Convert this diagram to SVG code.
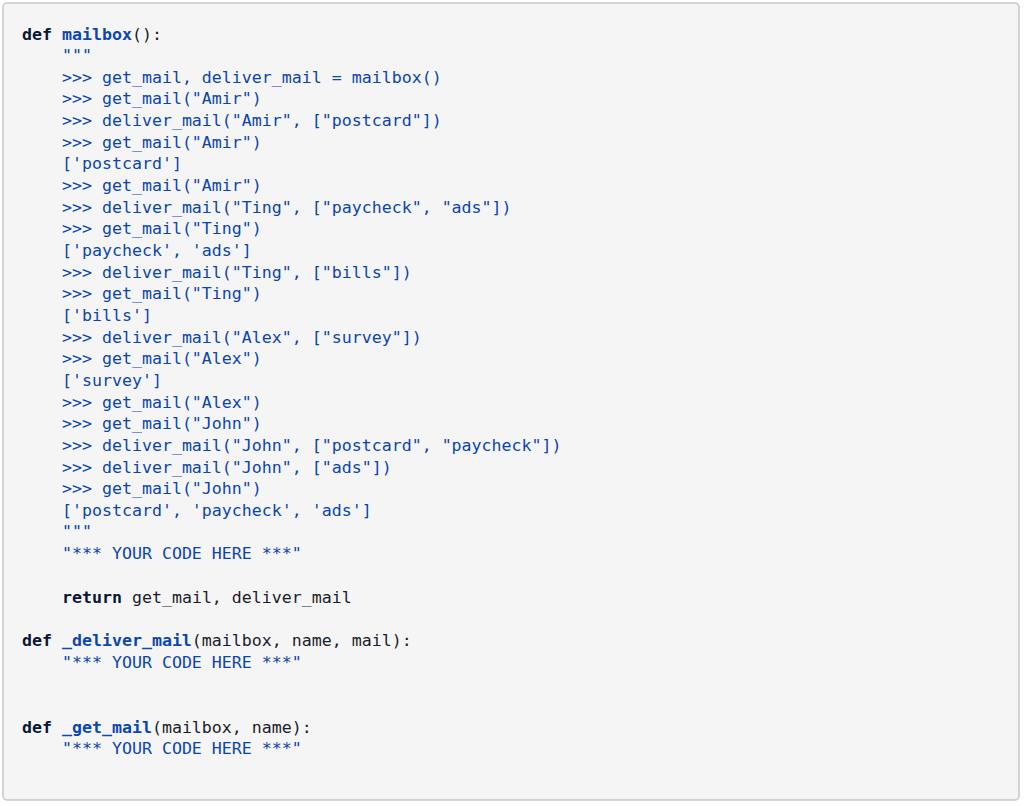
<svg xmlns="http://www.w3.org/2000/svg" width="1024" height="806" viewBox="0 0 1024 806">
<style>
text{font-family:"DejaVu Sans Mono",monospace;font-size:16.6px;fill:#1c1c2c;white-space:pre}
.k{font-weight:bold;fill:#0a1633}
.f{font-weight:bold;fill:#0b47b0}
.s{fill:#0b45b0}
</style>
<rect x="3" y="3" width="1016" height="797" rx="4" fill="#f5f5f5" stroke="#c8c8c8" stroke-width="1.5"/>
<g id="code">
<text x="22" y="40"><tspan class="k">def</tspan> <tspan class="f">mailbox</tspan>():</text>
<g class="s">
<text x="62" y="61" class="s">"""</text>
<text x="62" y="83" class="s">&gt;&gt;&gt; get_mail, deliver_mail = mailbox()</text>
<text x="62" y="104" class="s">&gt;&gt;&gt; get_mail("Amir")</text>
<text x="62" y="126" class="s">&gt;&gt;&gt; deliver_mail("Amir", ["postcard"])</text>
<text x="62" y="148" class="s">&gt;&gt;&gt; get_mail("Amir")</text>
<text x="62" y="169" class="s">['postcard']</text>
<text x="62" y="191" class="s">&gt;&gt;&gt; get_mail("Amir")</text>
<text x="62" y="213" class="s">&gt;&gt;&gt; deliver_mail("Ting", ["paycheck", "ads"])</text>
<text x="62" y="234" class="s">&gt;&gt;&gt; get_mail("Ting")</text>
<text x="62" y="256" class="s">['paycheck', 'ads']</text>
<text x="62" y="278" class="s">&gt;&gt;&gt; deliver_mail("Ting", ["bills"])</text>
<text x="62" y="299" class="s">&gt;&gt;&gt; get_mail("Ting")</text>
<text x="62" y="321" class="s">['bills']</text>
<text x="62" y="343" class="s">&gt;&gt;&gt; deliver_mail("Alex", ["survey"])</text>
<text x="62" y="364" class="s">&gt;&gt;&gt; get_mail("Alex")</text>
<text x="62" y="386" class="s">['survey']</text>
<text x="62" y="408" class="s">&gt;&gt;&gt; get_mail("Alex")</text>
<text x="62" y="429" class="s">&gt;&gt;&gt; get_mail("John")</text>
<text x="62" y="451" class="s">&gt;&gt;&gt; deliver_mail("John", ["postcard", "paycheck"])</text>
<text x="62" y="473" class="s">&gt;&gt;&gt; deliver_mail("John", ["ads"])</text>
<text x="62" y="494" class="s">&gt;&gt;&gt; get_mail("John")</text>
<text x="62" y="516" class="s">['postcard', 'paycheck', 'ads']</text>
<text x="62" y="537" class="s">"""</text>
<text x="62" y="559" class="s">"*** YOUR CODE HERE ***"</text>
</g>
<text x="62" y="603"><tspan class="k">return</tspan> get_mail, deliver_mail</text>
<text x="22" y="646"><tspan class="k">def</tspan> <tspan class="f">_deliver_mail</tspan>(mailbox, name, mail):</text>
<text x="62" y="668" class="s">"*** YOUR CODE HERE ***"</text>
<text x="22" y="733"><tspan class="k">def</tspan> <tspan class="f">_get_mail</tspan>(mailbox, name):</text>
<text x="62" y="754" class="s">"*** YOUR CODE HERE ***"</text>
</g>
</svg>
